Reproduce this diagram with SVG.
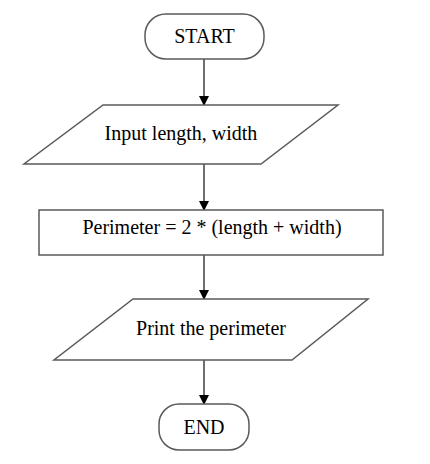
<svg xmlns="http://www.w3.org/2000/svg" width="430" height="464" viewBox="0 0 430 464">
<style>
.shape{fill:#fff;stroke:#5a5a5a;stroke-width:1.5}
.lbl{font-family:"Liberation Serif","Times New Roman",serif;font-size:20px;fill:#000;text-anchor:middle}
.conn{stroke:#222;stroke-width:1.3;fill:none;marker-end:url(#ah)}
</style>
<defs>
<marker id="ah" markerWidth="10" markerHeight="10" refX="9" refY="5" orient="auto" markerUnits="userSpaceOnUse">
<path d="M0,0 L10,5 L0,10 Z" fill="#000"/>
</marker>
</defs>
<rect width="430" height="464" fill="#fff"/>
<g id="connectors">
<line class="conn" x1="204" y1="59" x2="204" y2="105"/>
<line class="conn" x1="204" y1="164" x2="204" y2="210"/>
<line class="conn" x1="204" y1="255" x2="204" y2="299"/>
<line class="conn" x1="204" y1="360" x2="204" y2="404"/>
</g>
<g id="start">
<rect class="shape" x="145" y="14" width="119" height="45" rx="21" ry="21"/>
<text class="lbl" x="204.5" y="43">START</text>
</g>
<g id="input">
<polygon class="shape" points="103,105 338,105 261,164 24,164"/>
<text class="lbl" x="181" y="140">Input length, width</text>
</g>
<g id="process">
<rect class="shape" x="39" y="210" width="344" height="45"/>
<text class="lbl" x="212" y="234">Perimeter = 2 * (length + width)</text>
</g>
<g id="output">
<polygon class="shape" points="133,299 368,299 292,360 54,360"/>
<text class="lbl" x="211" y="335">Print the perimeter</text>
</g>
<g id="end">
<rect class="shape" x="159" y="404" width="90" height="46" rx="20" ry="20"/>
<text class="lbl" x="204" y="434">END</text>
</g>
</svg>
